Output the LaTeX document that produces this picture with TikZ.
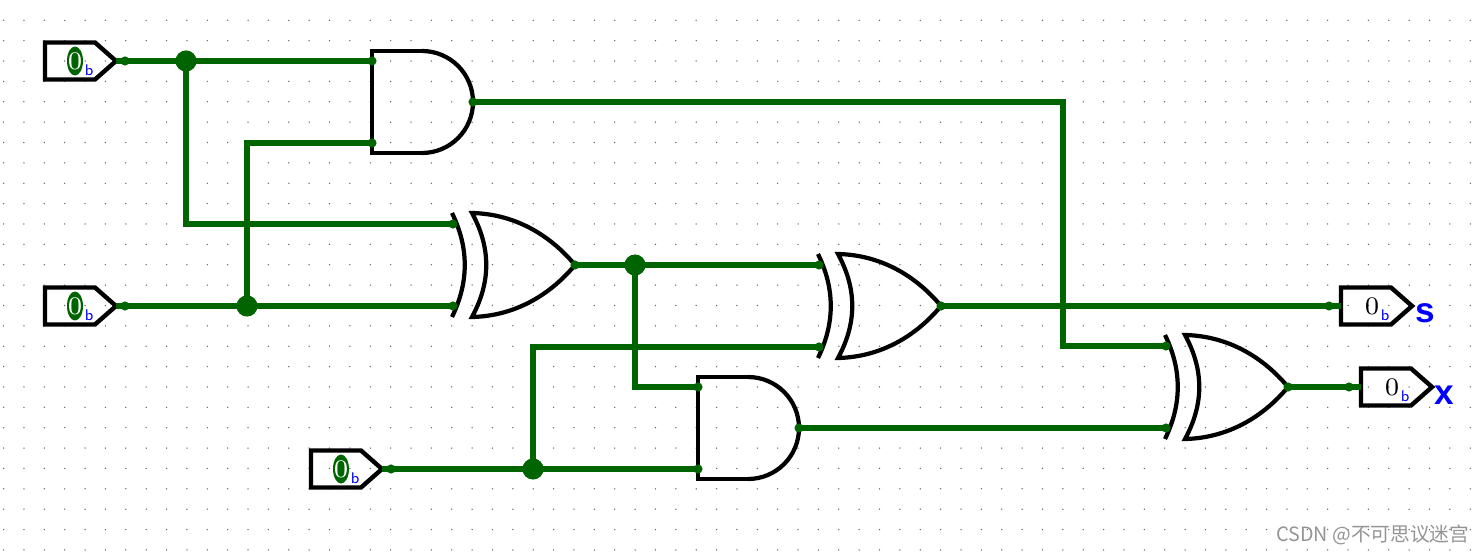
\documentclass[tikz,border=0pt]{standalone}
\usepackage{fontspec}
\newfontfamily\cjkfont{Noto Sans CJK SC}
\newfontfamily\labelfont{Liberation Sans}
\definecolor{wiregreen}{RGB}{0,100,0}
\definecolor{griddot}{RGB}{100,100,100}
\tikzset{
    wire/.style={draw=wiregreen, line width=1.6pt},
    gateline/.style={draw=black, line width=1.2pt},
    pinbox/.style={draw=black, line width=1.25pt, line join=miter},
    pindot/.style={circle, fill=wiregreen, inner sep=0pt, outer sep=-1pt, minimum size=2.6pt},
    joint/.style={circle, fill=wiregreen, inner sep=0pt, outer sep=-1pt, minimum size=6pt},
    zero/.style={inner sep=0pt, font=\fontsize{7.2}{8}\selectfont},
    base/.style={inner sep=0pt, text=blue, font=\sffamily\fontsize{4.4}{5}\selectfont},
    pinname/.style={inner sep=0pt, text=blue, font=\labelfont\bfseries\fontsize{10}{12}\selectfont},
    pics/andgate/.style={code={
        \draw[gateline] (50,-51) -- (0,-51) -- (0,51) -- (50,51);
        \draw[gateline] (50,-51) arc (-90:90:51);
        \node[pindot] (-in1) at (0,-41) {};
        \node[pindot] (-in2) at (0,41) {};
        \node[pindot] (-out) at (101,0) {};
    }},
    pics/xorgate/.style={code={
        \draw[gateline] (-123,-52) .. controls (-106,-17) and (-106,17) .. (-123,52);
        \draw[gateline] (-103,-52) .. controls (-60,-51) and (-25,-30) .. (0,0)
            .. controls (-25,30) and (-60,51) .. (-103,52)
            .. controls (-84,17) and (-84,-17) .. cycle;
        \node[pindot] (-in1) at (-122,-41) {};
        \node[pindot] (-in2) at (-122,41) {};
        \node[pindot] (-out) at (0,0) {};
    }},
    pics/inpin/.style={code={
        \draw[pinbox] (0,-18.5) -- (50,-18.5) -- (71,0) -- (50,18.5) -- (0,18.5) -- cycle;
        \fill[wiregreen] (30,0) ellipse (8 and 14.5);
        \node[zero, text=white] (-val) at (30,0) {0};
        \node[base] (-base) at (44,9) {b};
        \coordinate (-tip) at (71,0);
        \node[pindot] (-dot) at (80,0) {};
    }},
    pics/outpin/.style={code={
        \draw[pinbox] (0,-18.5) -- (50,-18.5) -- (71,0) -- (50,18.5) -- (0,18.5) -- cycle;
        \node[zero] (-val) at (31,0) {0};
        \node[base] (-base) at (44,9) {b};
        \coordinate (-end) at (0,0);
        \node[pindot] (-dot) at (-12,0) {};
    }},
}
\begin{document}
\begin{tikzpicture}[x=0.01cm, y=-0.01cm]
    \useasboundingbox (0,0) rectangle (1483,555);

    % dotted background
    \foreach \i in {0,...,72} {
        \foreach \j in {0,...,26} {
            \fill[griddot] ({3.6+20.37*\i},{20.3+20.37*\j}) circle (0.75);
        }
    }

    \pic (a) at (45,61) {inpin};
    \pic (b) at (45,306) {inpin};
    \pic (cin) at (311,469) {inpin};

    \pic (sum) at (1341,306) {outpin};
    \pic (carry) at (1361,387) {outpin};
    \node[pinname] (sname) at (1425,313) {s};
    \node[pinname] (xname) at (1444,395) {x};

    \pic (and1) at (372,102) {andgate};
    \pic (and2) at (698,428) {andgate};
    \pic (xor1) at (575,265) {xorgate};
    \pic (xor2) at (941,306) {xorgate};
    \pic (xor3) at (1288,387) {xorgate};

    \node[joint] (j1) at (186,61) {};
    \node[joint] (j2) at (247,306) {};
    \node[joint] (j3) at (635,265) {};
    \node[joint] (j4) at (533,469) {};
    \coordinate (bend) at (1063,102);

    \draw[wire] (a-tip) -- (j1);
    \draw[wire] (j1) -- (and1-in1);
    \draw[wire] (j1) |- (xor1-in1);
    \draw[wire] (b-tip) -- (j2);
    \draw[wire] (j2) -- (xor1-in2);
    \draw[wire] (j2) |- (and1-in2);
    \draw[wire] (xor1-out) -- (j3);
    \draw[wire] (j3) -- (xor2-in1);
    \draw[wire] (j3) |- (and2-in1);
    \draw[wire] (cin-tip) -- (j4);
    \draw[wire] (j4) -- (and2-in2);
    \draw[wire] (j4) |- (xor2-in2);
    \draw[wire] (and1-out) -- (bend) |- (xor3-in1);
    \draw[wire] (and2-out) -- (xor3-in2);
    \draw[wire] (xor2-out) -- (sum-end);
    \draw[wire] (xor3-out) -- (carry-end);

    \node[anchor=east, inner sep=0pt, text=black!42, font=\fontsize{5.6}{7}\selectfont] (mark) at (1470,535) {\cjkfont CSDN @不可思议迷宫};
\end{tikzpicture}
\end{document}
